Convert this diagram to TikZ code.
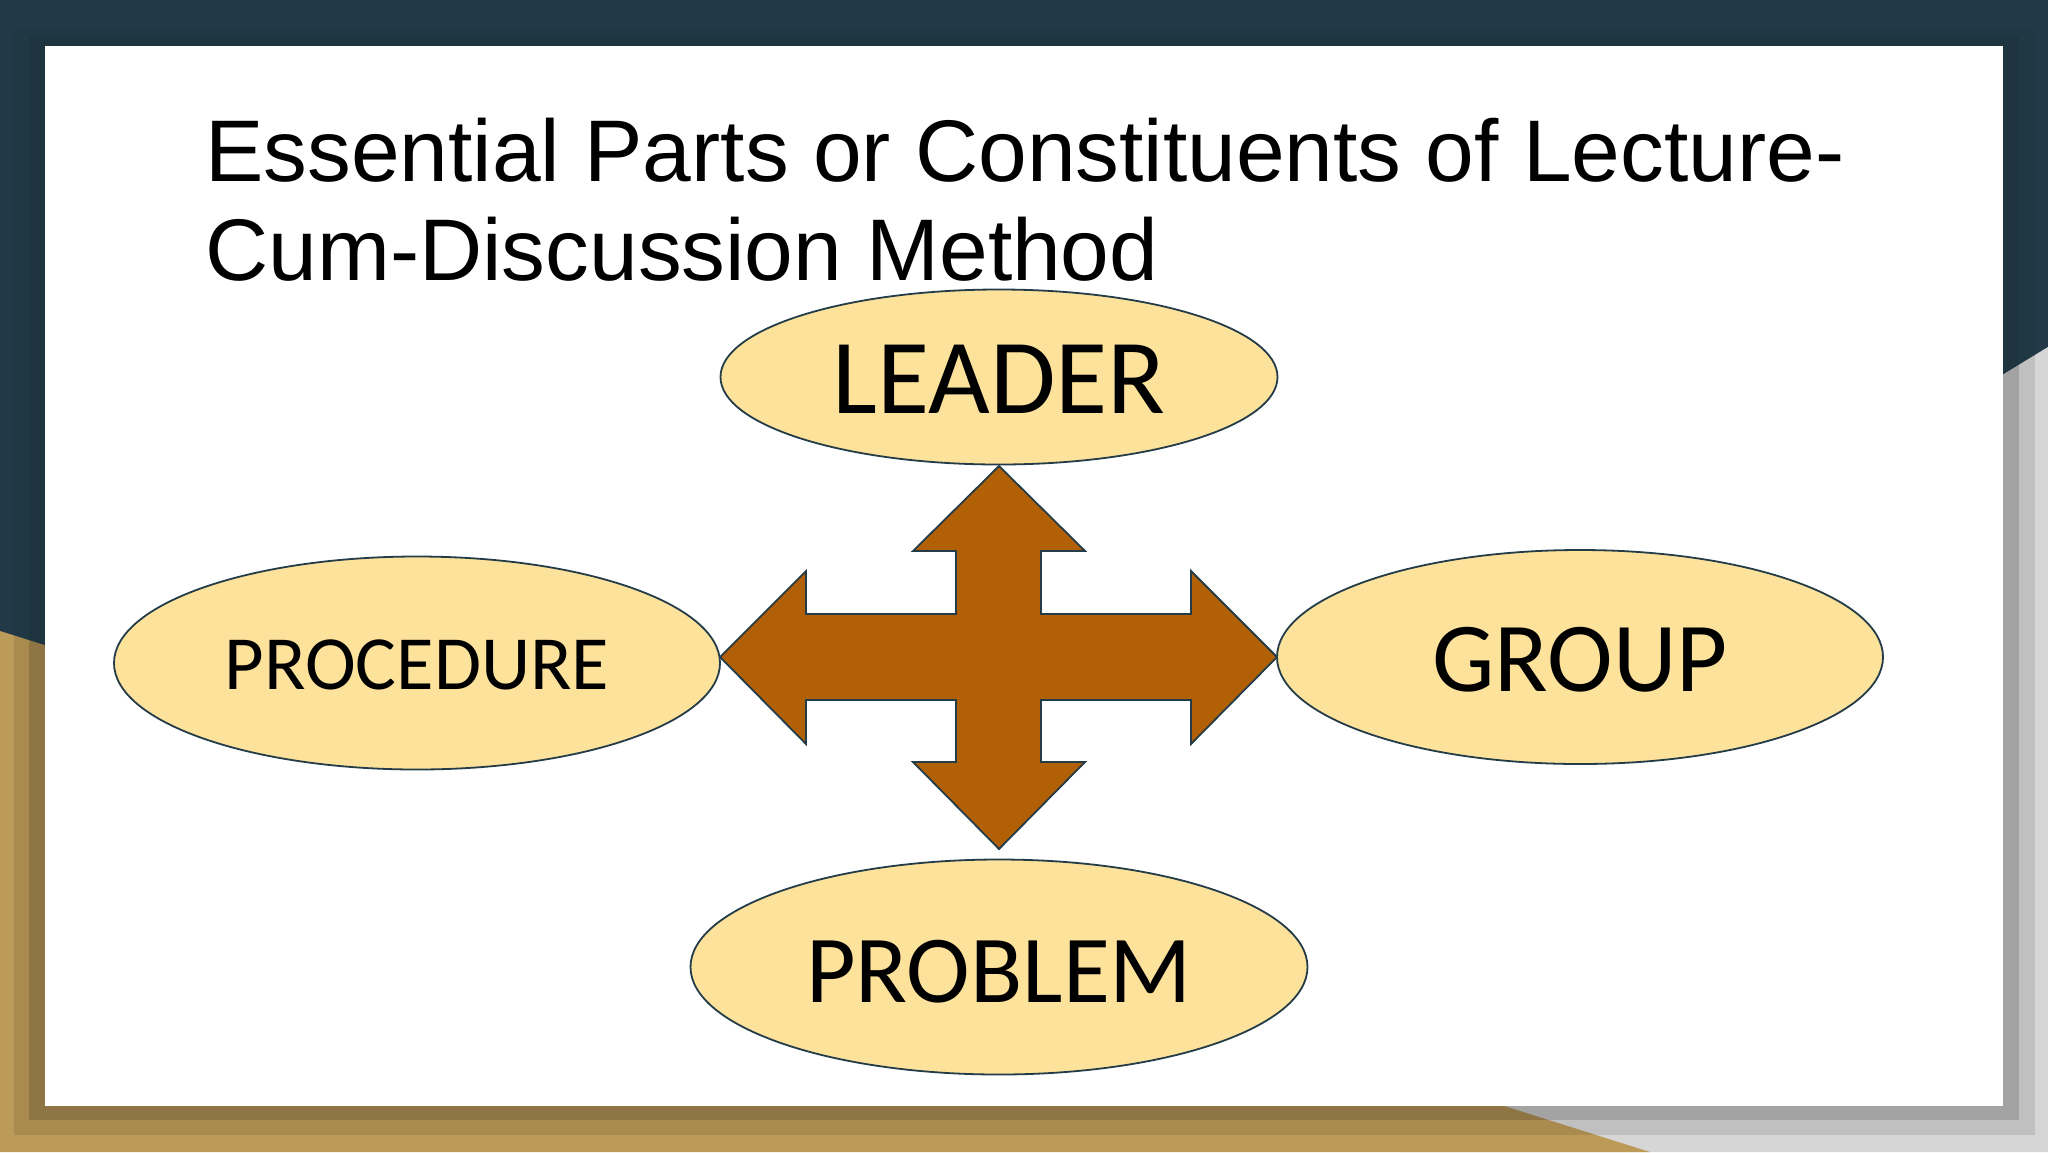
\documentclass[tikz,border=0pt]{standalone}
\usepackage{fontspec}
\setmainfont{Liberation Sans}
\newfontfamily\bodyfont{Carlito}
\usetikzlibrary{shapes.geometric}
\definecolor{navy}{HTML}{223A47}
\definecolor{goldbg}{HTML}{BC9B59}
\definecolor{graybg}{HTML}{D6D6D6}
\definecolor{oval}{HTML}{FDE29C}
\definecolor{rust}{HTML}{B26006}
\definecolor{edge}{HTML}{233C48}
\newcommand{\lowertext}[2]{\raisebox{-#1}[\dimexpr\height+#1\relax][#1]{#2}}
\tikzset{
  oval/.style={shape=ellipse,draw=edge,line width=0.9pt,fill=oval,inner sep=0pt,text=black,font=\bodyfont},
  titletext/.style={anchor=base west,inner sep=0pt,font=\fontsize{43.75}{50}\selectfont,text=black},
  shadowband/.style={fill=black,draw=none}
}
\begin{document}
\begin{tikzpicture}[x=0.5pt,y=-0.5pt]
\useasboundingbox (0,0) rectangle (2048,1152);
\fill[navy] (0,0) rectangle (2048,1152);
\fill[graybg] (2048,347) -- (1470,700) -- (1400,1152) -- (2048,1152) -- cycle;
\fill[goldbg] (0,631) -- (1650,1152) -- (0,1152) -- cycle;
\fill[shadowband,opacity=0.03] (14,30) rectangle (2035,1135);
\fill[shadowband,opacity=0.05] (29,36) rectangle (2019,1120);
\begin{scope}
\clip (2048,347) -- (2048,1152) -- (1400,1152) -- (1470,700) -- cycle
      (0,631) -- (1650,1152) -- (0,1152) -- cycle;
\fill[shadowband,opacity=0.07] (14,30) rectangle (2035,1135);
\fill[shadowband,opacity=0.10] (29,36) rectangle (2019,1120);
\end{scope}
\fill[white] (45,46) rectangle (2003,1106);
\node[titletext] (t1) at (205,181) {Essential Parts or Constituents of Lecture-};
\node[titletext] (t2) at (205,280) {Cum-Discussion Method};
\draw[fill=rust,draw=edge,line width=0.9pt,line join=miter]
  (999,466) -- (1085,551) -- (1041,551) -- (1041,614) -- (1191,614) -- (1191,571)
  -- (1277,657) -- (1191,744) -- (1191,700) -- (1041,700) -- (1041,762) -- (1085,762)
  -- (999,849) -- (913,762) -- (956,762) -- (956,700) -- (806,700) -- (806,744)
  -- (720,657) -- (806,571) -- (806,614) -- (956,614) -- (956,551) -- (913,551) -- cycle;
\node[oval,minimum width=278.5pt,minimum height=87.5pt,font=\bodyfont\fontsize{53.3}{60}\selectfont] (leader) at (999,377) {\lowertext{1.3pt}{LEADER}};
\node[oval,minimum width=303pt,minimum height=106.5pt,font=\bodyfont\fontsize{38.3}{44}\selectfont] (procedure) at (417,663) {\lowertext{0.9pt}{PROCEDURE}};
\node[oval,minimum width=303pt,minimum height=107pt,font=\bodyfont\fontsize{49.5}{54}\selectfont] (group) at (1580,657) {\lowertext{1.2pt}{GROUP}};
\node[oval,minimum width=308.5pt,minimum height=107.5pt,font=\bodyfont\fontsize{48}{54}\selectfont] (problem) at (999,967) {\lowertext{2pt}{PROBLEM}};
\end{tikzpicture}
\end{document}
